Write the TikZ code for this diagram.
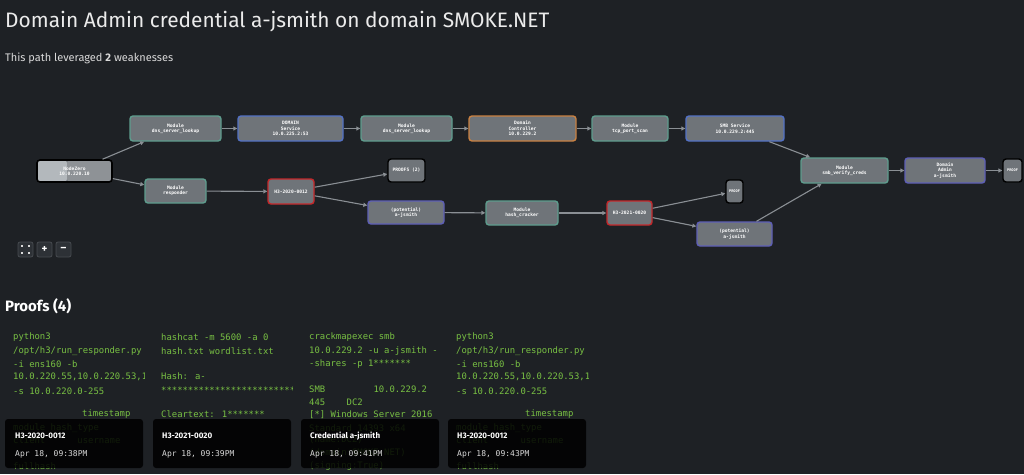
\documentclass[tikz,border=0pt]{standalone}
\usepackage{fontspec}
\setmainfont{Fira Sans}
\newfontfamily\monof{DejaVu Sans Mono}
\usetikzlibrary{arrows.meta}
\definecolor{bg}{HTML}{1E2125}
\definecolor{nfill}{HTML}{6F7479}
\definecolor{edgec}{HTML}{8A8F94}
\definecolor{tealc}{HTML}{5E9C8D}
\definecolor{bluec}{HTML}{5371C4}
\definecolor{orangec}{HTML}{C98142}
\definecolor{redc}{HTML}{C4282B}
\definecolor{purplec}{HTML}{5E5FB6}
\definecolor{greent}{HTML}{78C043}
\definecolor{startl}{HTML}{B3B8BC}
\definecolor{startd}{HTML}{8E9296}
\definecolor{btnfill}{HTML}{2D3136}
\definecolor{btnline}{HTML}{474B50}
\tikzset{
  gbox/.style={draw, rounded corners=3pt, fill=nfill, line width=1.4pt, text=white,
    font=\monof\bfseries\fontsize{4.6}{5.4}\selectfont, align=center, inner sep=0pt},
  tealb/.style={gbox, draw=tealc},
  blueb/.style={gbox, draw=bluec},
  orangeb/.style={gbox, draw=orangec},
  redb/.style={gbox, draw=redc},
  purpleb/.style={gbox, draw=purplec},
  blackb/.style={gbox, draw=black, font=\monof\bfseries\fontsize{3.6}{4.4}\selectfont},
  conn/.style={draw=edgec, line width=1.1pt, -{Triangle[length=4pt,width=4pt]}},
  btn/.style={draw=btnline, fill=btnfill, rounded corners=2pt, line width=0.8pt, minimum width=15pt, minimum height=15pt, inner sep=0pt, text=white},
  gtext/.style={anchor=west, inner sep=0pt, text=greent, font=\monof\fontsize{8.9}{10}\selectfont},
  ovl/.style={fill=black, fill opacity=0.86, rounded corners=3pt},
  ctitle/.style={anchor=west, inner sep=0pt, text=white, font=\bfseries\fontsize{8}{9}\selectfont},
  cdate/.style={anchor=west, inner sep=0pt, text=white!85!black, font=\monof\fontsize{8}{9}\selectfont},
}
\begin{document}
\begin{tikzpicture}[x=1pt,y=-1pt]
\fill[bg] (0,0) rectangle (1024,474);
\useasboundingbox (0,0) rectangle (1024,474);
% header
\node[anchor=west, inner sep=0pt, text=white!92!black, font=\fontsize{20.9}{24}\selectfont] (title) at (5,22) {Domain Admin credential a-jsmith on domain SMOKE.NET};
\node[anchor=west, inner sep=0pt, text=white!85!black, font=\fontsize{11}{13}\selectfont] (sub) at (5,58) {This path leveraged \textbf{2} weaknesses};
% graph nodes
\node[gbox, draw=black, line width=1.6pt, minimum width=75pt, minimum height=22pt,
  path picture={\fill[startl] (path picture bounding box.south west) rectangle ([xshift=30pt]path picture bounding box.north west);
                \fill[startd] ([xshift=30pt]path picture bounding box.south west) rectangle (path picture bounding box.north east);}]
  (start) at (74.5,171) {NodeZero\\10.0.220.10};
\node[tealb, minimum width=91pt, minimum height=25pt] (dns1) at (175.5,128.5) {Module\\dns\_server\_lookup};
\node[blueb, minimum width=105pt, minimum height=25pt] (svc) at (290.5,128.5) {DOMAIN\\Service\\10.0.225.2:53};
\node[tealb, minimum width=91pt, minimum height=25pt] (dns2) at (406.5,128.5) {Module\\dns\_server\_lookup};
\node[orangeb, minimum width=107pt, minimum height=25pt] (dc) at (522.5,128.5) {Domain\\Controller\\10.0.229.2};
\node[tealb, minimum width=76pt, minimum height=25pt] (tcp) at (630,128.5) {Module\\tcp\_port\_scan};
\node[blueb, minimum width=98pt, minimum height=25pt] (smb) at (735,128.5) {SMB Service\\10.0.229.2:445};
\node[tealb, minimum width=87pt, minimum height=25pt] (verify) at (844.5,170.5) {Module\\smb\_verify\_creds};
\node[purpleb, minimum width=80pt, minimum height=25pt] (da) at (945,170.5) {Domain\\Admin\\a-jsmith};
\node[blackb, minimum width=19pt, minimum height=23pt] (proofend) at (1012.5,170.5) {PROOF};
\node[tealb, minimum width=61pt, minimum height=24pt] (resp) at (175.5,191) {Module\\responder};
\node[redb, minimum width=46pt, minimum height=25pt] (h1) at (291,191.5) {H3-2020-0012};
\node[blackb, minimum width=37pt, minimum height=23pt, font=\monof\bfseries\fontsize{4.6}{5.4}\selectfont] (proofs2) at (406.5,170.5) {PROOFS (2)};
\node[purpleb, minimum width=76pt, minimum height=23pt] (pot1) at (406,212.5) {(potential)\\a-jsmith};
\node[tealb, minimum width=72pt, minimum height=24pt] (hash) at (522,213) {Module\\hash\_cracker};
\node[redb, minimum width=45pt, minimum height=24pt] (h2) at (629.5,213) {H3-2021-0020};
\node[blackb, minimum width=17pt, minimum height=23pt] (proofmid) at (734.5,191.5) {PROOF};
\node[purpleb, minimum width=75pt, minimum height=24pt] (pot2) at (734.5,234) {(potential)\\a-jsmith};
% connectors
\draw[conn] (start) -- (dns1);
\draw[conn] (start) -- (resp);
\draw[conn] (dns1) -- (svc);
\draw[conn] (svc) -- (dns2);
\draw[conn] (dns2) -- (dc);
\draw[conn] (dc) -- (tcp);
\draw[conn] (tcp) -- (smb);
\draw[conn] (smb) -- (verify);
\draw[conn] (verify) -- (da);
\draw[conn] (da) -- (proofend);
\draw[conn] (resp) -- (h1);
\draw[conn] (h1) -- (proofs2);
\draw[conn] (h1) -- (pot1);
\draw[conn] (pot1) -- (hash);
\draw[conn] (hash) -- (h2);
\draw[conn] (h2) -- (proofmid);
\draw[conn] (h2) -- (pot2);
\draw[conn] (pot2) -- (verify);
% zoom buttons
\node[btn] (bfit) at (25.5,249.5) {};
\foreach \dx/\dy in {-1/-1,1/-1,-1/1,1/1}
  \fill[white!85!black] ([xshift=\dx*2.6pt,yshift=\dy*2.6pt]bfit.center) rectangle ++(\dx*1.6pt,\dy*1.6pt);
\node[btn, font=\bfseries\fontsize{11}{11}\selectfont] (bplus) at (44.5,249.5) {+};
\node[btn, font=\bfseries\fontsize{11}{11}\selectfont] (bminus) at (63.5,249.5) {\raisebox{0.5pt}{--}};
% proofs header
\node[anchor=west, inner sep=0pt, text=white, font=\bfseries\fontsize{15}{17}\selectfont] (proofs) at (5,306) {Proofs (4)};
% card 1
\begin{scope}
\clip (5,326) rectangle (144,470);
\node[gtext] (c1a) at (13,337) {python3};
\node[gtext] (c1b) at (13,351) {/opt/h3/run\_responder.py};
\node[gtext] (c1c) at (13,364) {-i ens160 -b};
\node[gtext] (c1d) at (13,377) {10.0.220.55,10.0.220.53,10.0.220.54};
\node[gtext] (c1e) at (13,391) {-s 10.0.220.0-255};
\node[gtext] (c1f) at (82,414) {timestamp};
\node[gtext] (c1g) at (13,428) {module hash\_type};
\node[gtext] (c1h) at (13,440) {client\ \ \ \ \ \ username};
\node[gtext] (c1i) at (13,466) {fullhash};
\end{scope}
% card 2
\begin{scope}
\clip (153,326) rectangle (292,470);
\node[gtext] (c2a) at (161,337) {hashcat -m 5600 -a 0};
\node[gtext] (c2b) at (161,351) {hash.txt wordlist.txt};
\node[gtext] (c2c) at (161,376) {Hash: a-};
\node[gtext] (c2d) at (161,390) {******************************};
\node[gtext] (c2e) at (161,414) {Cleartext: 1*******};
\end{scope}
% card 3
\begin{scope}
\clip (300,326) rectangle (440,470);
\node[gtext] (c3a) at (309,337) {crackmapexec smb};
\node[gtext] (c3b) at (309,351) {10.0.229.2 -u a-jsmith -};
\node[gtext] (c3c) at (309,364) {-shares -p 1*******};
\node[gtext] (c3d) at (309,389) {SMB\ \ \ \ \ \ \ \ \ 10.0.229.2};
\node[gtext] (c3e) at (309,402) {445\ \ \ \ DC2};
\node[gtext] (c3f) at (309,415) {[*] Windows Server 2016};
\node[gtext] (c3g) at (309,428) {Standard 14393 x64};
\node[gtext] (c3h) at (309,440) {(name:DC2)};
\node[gtext] (c3i) at (309,453) {(domain:SMOKE.NET)};
\node[gtext] (c3j) at (309,466) {(signing:True)};
\end{scope}
% card 4
\begin{scope}
\clip (448,326) rectangle (588,470);
\node[gtext] (c4a) at (456,337) {python3};
\node[gtext] (c4b) at (456,351) {/opt/h3/run\_responder.py};
\node[gtext] (c4c) at (456,364) {-i ens160 -b};
\node[gtext] (c4d) at (456,377) {10.0.220.55,10.0.220.53,10.0.220.54};
\node[gtext] (c4e) at (456,391) {-s 10.0.220.0-255};
\node[gtext] (c4f) at (525,414) {timestamp};
\node[gtext] (c4g) at (456,428) {module hash\_type};
\node[gtext] (c4h) at (456,440) {client\ \ \ \ \ \ username};
\node[gtext] (c4i) at (456,466) {fullhash};
\end{scope}
% overlays
\fill[ovl] (5,419) rectangle (143,468);
\fill[ovl] (153,419) rectangle (291,468);
\fill[ovl] (301,419) rectangle (439,468);
\fill[ovl] (448,419) rectangle (586,468);
\node[ctitle] (t1) at (15,436) {H3-2020-0012};
\node[cdate] (d1) at (15,454) {Apr 18, 09:38PM};
\node[ctitle] (t2) at (162,436) {H3-2021-0020};
\node[cdate] (d2) at (162,454) {Apr 18, 09:39PM};
\node[ctitle] (t3) at (310,436) {Credential a-jsmith};
\node[cdate] (d3) at (310,454) {Apr 18, 09:41PM};
\node[ctitle] (t4) at (457,436) {H3-2020-0012};
\node[cdate] (d4) at (457,454) {Apr 18, 09:43PM};
\end{tikzpicture}
\end{document}
